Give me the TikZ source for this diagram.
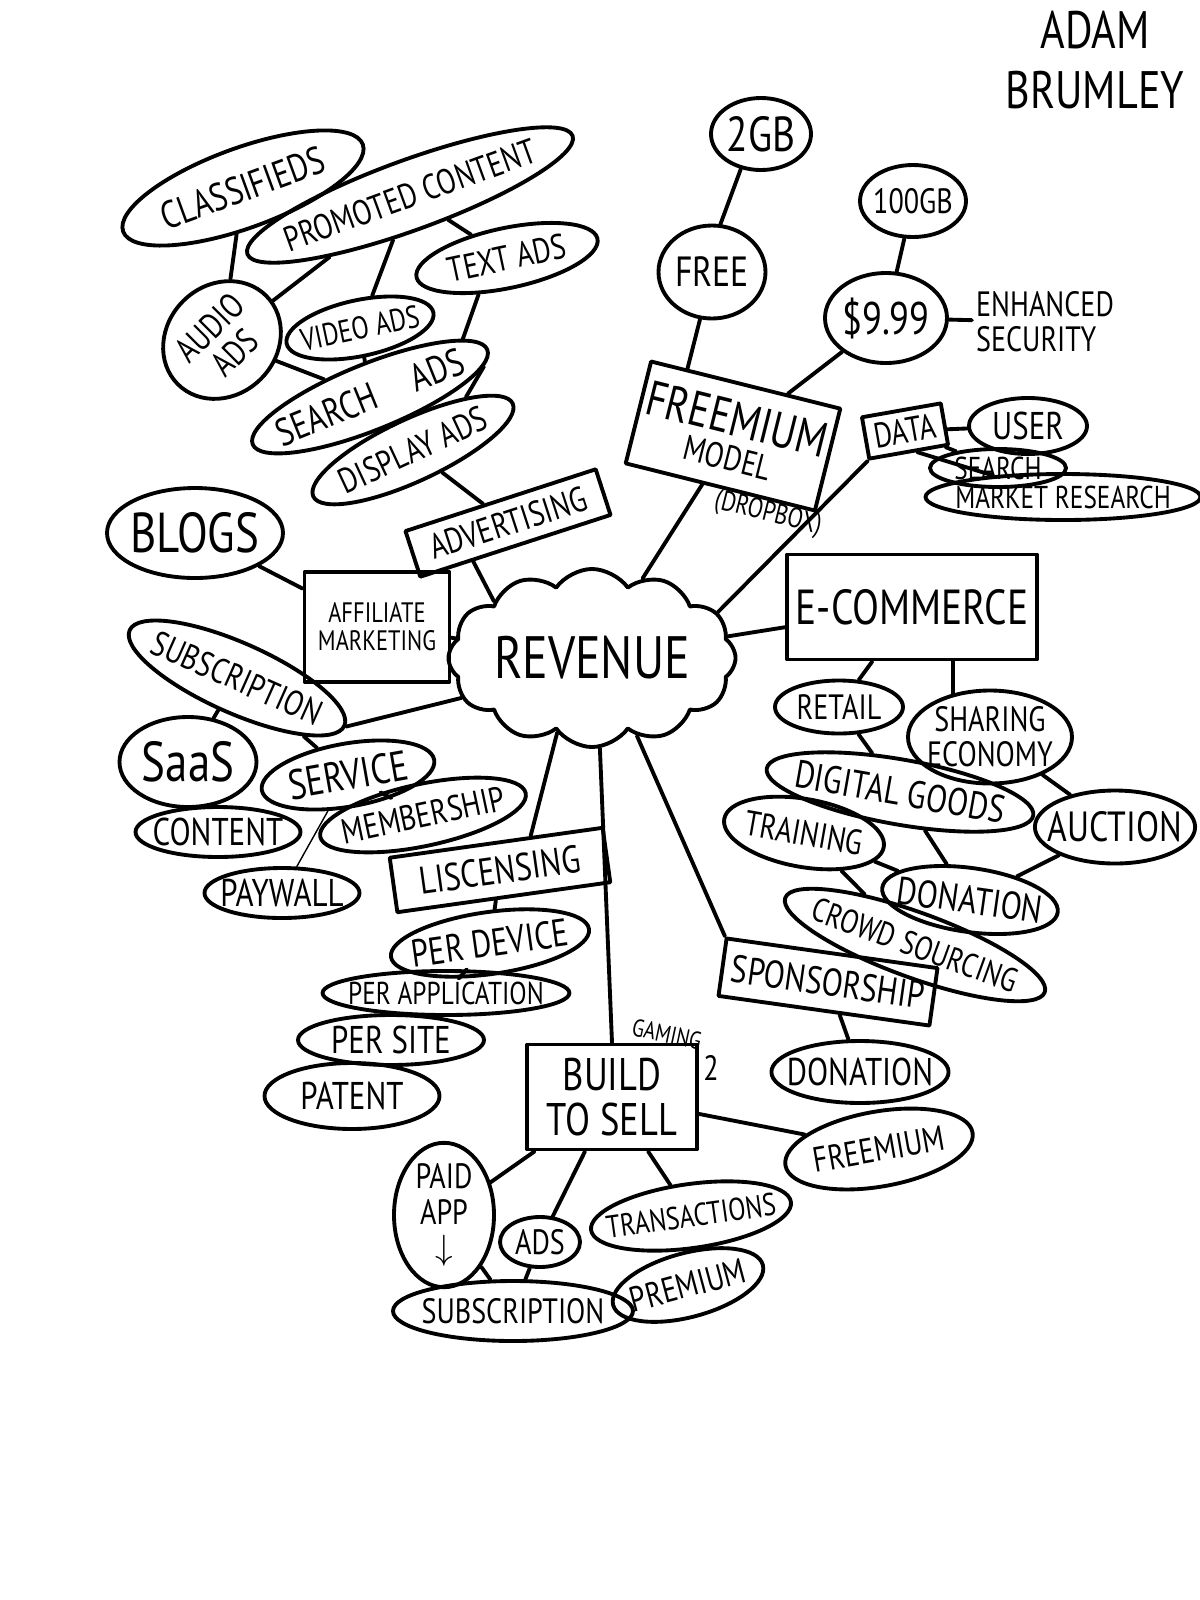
\documentclass[tikz,border=0pt]{standalone}
\usepackage{fontspec}
\setmainfont{PT Sans}[FakeStretch=0.8]
\usetikzlibrary{shapes.geometric,shapes.symbols}

\tikzset{
  pen/.style={line width=1.1pt, line cap=round, line join=round},
  bubble/.style={pen, draw, ellipse, inner xsep=-3pt, inner ysep=0pt, align=center},
  tag/.style={pen, draw, rectangle, inner sep=0pt, align=center},
  link/.style={pen},
  fs/.style={font=\fontsize{#1}{#1}\selectfont},
}

\begin{document}
\begin{tikzpicture}[x=0.1mm, y=-0.1mm]
\useasboundingbox (0,0) rectangle (1200,1600);
\fill[white] (0,0) rectangle (1200,1600);

% centre
\node[pen, draw, cloud, cloud puffs=12, cloud puff arc=110, aspect=1.9,
      minimum width=25mm, minimum height=13mm, inner sep=0pt, fs=17] (revenue) at (592,658) {REVENUE};

% advertising branch
\node[bubble, fs=11, rotate=20, minimum width=25.5mm, minimum height=8mm] (classifieds) at (243,188) {CLASSIFIEDS};
\node[bubble, fs=10, rotate=20, minimum width=33mm, minimum height=7mm] (promoted) at (410,195) {PROMOTED CONTENT};
\node[bubble, fs=10, rotate=12, minimum width=18.5mm, minimum height=6mm] (textads) at (507,258) {TEXT ADS};
\node[bubble, fs=10, rotate=45, minimum width=12.5mm, minimum height=11mm] (audio) at (222,340) {AUDIO\\ADS};
\node[bubble, fs=9, rotate=12, minimum width=15mm, minimum height=5.6mm] (video) at (360,328) {VIDEO ADS};
\node[bubble, fs=11, rotate=22, minimum width=24.4mm, minimum height=6.6mm] (search) at (370,397) {SEARCH\quad ADS};
\node[bubble, fs=10, rotate=25, minimum width=22mm, minimum height=6.2mm] (display) at (413,450) {DISPLAY ADS};
\node[tag, fs=10, rotate=18, minimum width=20mm, minimum height=4.8mm] (advertising) at (508,523) {ADVERTISING};

% affiliate and subscription branch
\node[bubble, fs=16, minimum width=17.6mm, minimum height=9mm] (blogs) at (195,533) {BLOGS};
\node[tag, fs=8, minimum width=14.5mm, minimum height=11mm] (affiliate) at (377,627) {AFFILIATE\\MARKETING};
\node[bubble, fs=10, rotate=-24, minimum width=23.5mm, minimum height=7mm] (subscr) at (237,678) {SUBSCRIPTION};
\node[bubble, fs=16, minimum width=13.7mm, minimum height=9mm] (saas) at (188,762) {SaaS};
\node[bubble, fs=12, rotate=10, minimum width=17.5mm, minimum height=6.3mm] (service) at (348,775) {SERVICE};
\node[bubble, fs=11, minimum width=16.5mm, minimum height=5mm] (content) at (218,832) {CONTENT};
\node[bubble, fs=10, rotate=12, minimum width=21mm, minimum height=6.2mm] (membership) at (423,815) {MEMBERSHIP};
\node[bubble, fs=11, minimum width=15.5mm, minimum height=5mm] (paywall) at (282,893) {PAYWALL};

% licensing branch
\node[tag, fs=11, rotate=8, minimum width=21.5mm, minimum height=5.5mm] (lisc) at (500,870) {LISCENSING};
\node[bubble, fs=11, rotate=8, minimum width=20mm, minimum height=6.2mm] (perdevice) at (490,943) {PER DEVICE};
\node[bubble, fs=9, minimum width=24.4mm, minimum height=4.4mm] (perapp) at (446,993) {PER APPLICATION};
\node[bubble, fs=11, minimum width=18.6mm, minimum height=5mm] (persite) at (391,1040) {PER SITE};
\node[bubble, fs=11, minimum width=17.5mm, minimum height=6.6mm] (patent) at (352,1096) {PATENT};

% freemium branch
\node[tag, fs=10, rotate=-14, minimum width=19.5mm, minimum height=10.5mm] (freemium) at (733,436) {{\fontsize{14}{15}\selectfont FREEMIUM}\\MODEL};
\node[fs=8, rotate=-14, inner sep=0pt] (dropbox) at (768,514) {(DROPBOX)};
\node[bubble, fs=12, minimum width=10.7mm, minimum height=9.3mm] (free) at (712,272) {FREE};
\node[bubble, fs=14, minimum width=10mm, minimum height=7.2mm] (twogb) at (761,134) {2GB};
\node[bubble, fs=13, minimum width=12.2mm, minimum height=9mm] (paid) at (886,318) {\$9.99};
\node[bubble, fs=10, minimum width=10.6mm, minimum height=7.2mm] (hundredgb) at (913,201) {100GB};
\node[fs=10, align=left, inner sep=1pt] (security) at (1045,322) {ENHANCED\\SECURITY};

% data branch
\node[tag, fs=10, rotate=10, minimum width=8mm, minimum height=4.2mm] (data) at (905,431) {DATA};
\node[bubble, fs=11, minimum width=11.8mm, minimum height=5.6mm] (user) at (1028,426) {USER};
\node[bubble, fs=9, minimum width=13.6mm, minimum height=3.8mm] (searchdata) at (998,468) {SEARCH};
\node[bubble, fs=9, minimum width=26.2mm, minimum height=4.6mm] (market) at (1063,497) {MARKET RESEARCH};

% e-commerce branch
\node[tag, fs=14, minimum width=25mm, minimum height=10.5mm] (ecommerce) at (912,607) {E-COMMERCE};
\node[bubble, fs=10, minimum width=12.8mm, minimum height=5.3mm] (retail) at (839,707) {RETAIL};
\node[bubble, fs=10, minimum width=16.4mm, minimum height=9.3mm] (sharing) at (990,737) {SHARING\\ECONOMY};
\node[bubble, fs=11, rotate=-10, minimum width=26.5mm, minimum height=6.5mm] (digital) at (900,792) {DIGITAL GOODS};
\node[bubble, fs=12, minimum width=15.5mm, minimum height=7.3mm] (auction) at (1115,827) {AUCTION};
\node[bubble, fs=10, rotate=-10, minimum width=16.2mm, minimum height=6.8mm] (training) at (804,833) {TRAINING};
\node[bubble, fs=11, rotate=-8, minimum width=17.4mm, minimum height=6.4mm] (donationa) at (970,900) {DONATION};
\node[bubble, fs=9.5, rotate=-20, minimum width=24.5mm, minimum height=6.5mm] (crowd) at (915,945) {CROWD SOURCING};

% sponsorship branch
\node[tag, fs=11, rotate=-8, minimum width=21.3mm, minimum height=5.8mm] (sponsorship) at (828,982) {SPONSORSHIP};
\node[bubble, fs=11, minimum width=17.4mm, minimum height=6.2mm] (donationb) at (860,1072) {DONATION};

% build to sell branch
\node[tag, fs=13, minimum width=17mm, minimum height=10.5mm] (build) at (612,1097) {BUILD\\TO SELL};
\node[fs=7, rotate=-12, inner sep=0pt] (gaming) at (667,1034) {GAMING};
\node[fs=10, inner sep=0pt] (two) at (711,1068) {2};
\node[bubble, fs=10, minimum width=10mm, minimum height=11.6mm] (paidapp) at (444,1215) {PAID\\APP\\$\downarrow$};
\node[bubble, fs=10, minimum width=8mm, minimum height=5mm] (adsb) at (540,1242) {ADS};
\node[bubble, fs=9, inner xsep=-4pt, rotate=8, minimum width=18.4mm, minimum height=6.4mm] (transactions) at (691,1216) {TRANSACTIONS};
\node[bubble, fs=10, rotate=15, minimum width=15.5mm, minimum height=6.4mm] (premium) at (688,1285) {PREMIUM};
\node[bubble, fs=10, minimum width=24mm, minimum height=6mm] (subscrb) at (513,1311) {SUBSCRIPTION};
\node[bubble, fs=10, rotate=10, minimum width=19mm, minimum height=7.5mm] (freemiumb) at (879,1149) {FREEMIUM};

% signature
\node[font=\fontsize{15}{17}\selectfont, align=center, inner sep=0pt] (author) at (1095,60) {ADAM\\BRUMLEY};

% connectors
\draw[link] (classifieds) -- (audio);
\draw[link] (promoted) -- (audio);
\draw[link] (promoted) -- (video);
\draw[link] (promoted) -- (textads);
\draw[link] (textads.220) -- (search.10);
\draw[link] (video) -- (search);
\draw[link] (audio) -- (search);
\draw[link] (search) -- (display);
\draw[link] (search.-7) -- (display.20);
\draw[link] (display) -- (advertising);
\draw[link] (advertising.-150) -- (revenue.150);
\draw[link] (blogs) -- (affiliate);
\draw[link] (affiliate) -- (revenue);
\draw[link] (subscr.east) -- (revenue.197);
\draw[link] (subscr) -- (saas);
\draw[link] (subscr) -- (service);
\draw[link] (saas) -- (content);
\draw[link, thin] (service) -- (paywall);
\draw[link] (service) -- (membership);
\draw[link] (revenue.245) -- (lisc.40);
\draw[link] (lisc) -- (perdevice);
\draw[link] (perdevice) -- (perapp);
\draw[link] (revenue.-85) -- (build.north);
\draw[link] (revenue) -- (freemium);
\draw[link] (twogb.240) -- (free.80);
\draw[link] (free) -- (freemium.138);
\draw[link] (hundredgb) -- (paid);
\draw[link] (paid) -- (freemium);
\draw[link] (paid) -- (security);
\draw[link] (revenue.20) -- (data.south west);
\draw[link] (data) -- (user);
\draw[link] (data) -- (searchdata);
\draw[link] (data.-70) -- (market);
\draw[link] (revenue) -- (ecommerce);
\draw[link] (ecommerce) -- (retail);
\draw[link] (ecommerce.south -| sharing.130) -- (sharing.130);
\draw[link] (retail) -- (digital);
\draw[link] (sharing) -- (auction);
\draw[link] (digital) -- (donationa);
\draw[link] (training) -- (donationa);
\draw[link] (auction) -- (donationa);
\draw[link] (training) -- (crowd);
\draw[link] (revenue.-60) -- (sponsorship.north west);
\draw[link] (sponsorship) -- (donationb);
\draw[link] (build) -- (paidapp);
\draw[link] (build) -- (adsb);
\draw[link] (build) -- (transactions);
\draw[link] (build) -- (freemiumb);
\draw[link] (paidapp) -- (subscrb);
\draw[link] (adsb) -- (subscrb);
\draw[link] (transactions) -- (premium);
\end{tikzpicture}
\end{document}
